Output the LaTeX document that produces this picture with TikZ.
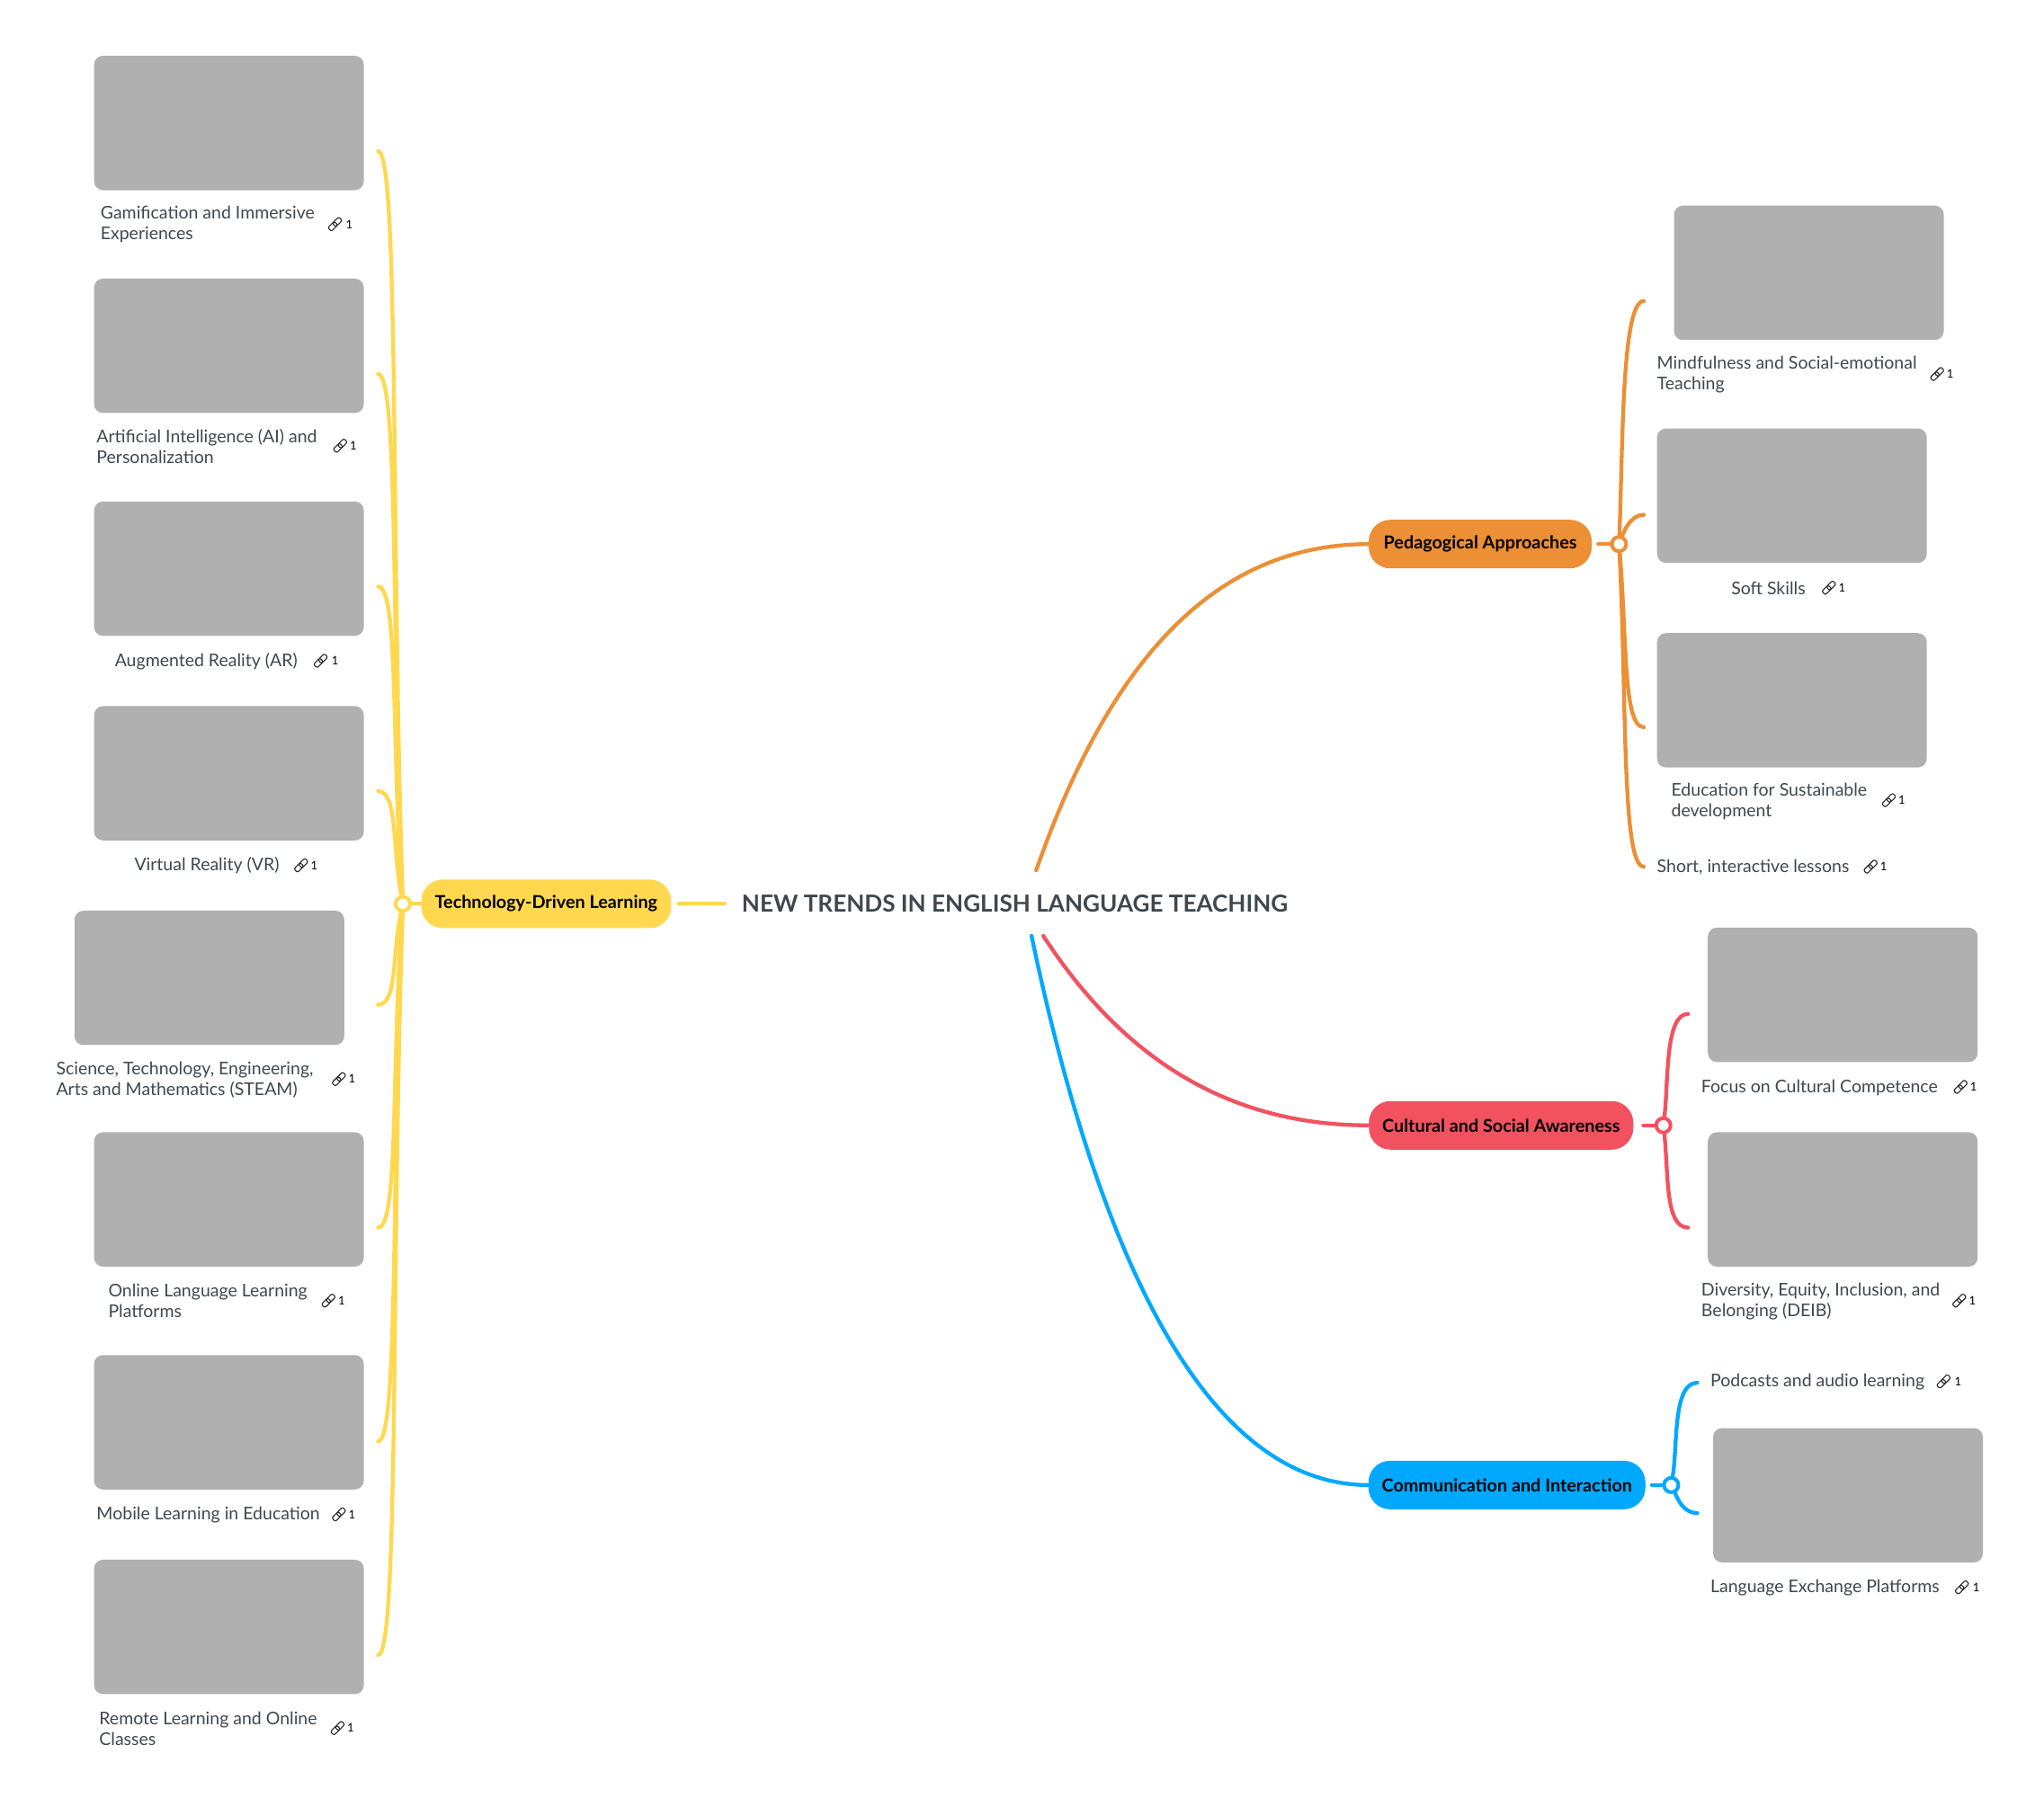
\documentclass[tikz,border=0pt]{standalone}
\usepackage{fontspec}
\setmainfont{Lato}
\usepackage{tikz}
\definecolor{techCol}{HTML}{FFD84F}
\definecolor{pedCol}{HTML}{EC8F35}
\definecolor{culCol}{HTML}{F25260}
\definecolor{comCol}{HTML}{00A9FF}
\definecolor{txtCol}{HTML}{3E474E}
\definecolor{boxCol}{HTML}{B0B0B0}

\begin{document}
\begin{tikzpicture}[x=1.4496pt,y=-1.4496pt,
    imgbox/.style={fill=boxCol,rounded corners=10pt,minimum width=300pt,minimum height=149.5pt,anchor=north west,inner sep=0pt,yshift=0.5pt},
    leaf/.style={text=txtCol,font=\fontsize{19.5}{23}\selectfont,align=left,anchor=west,inner sep=0pt,yshift=-0.5pt},
    linknum/.style={text=black,font=\fontsize{13}{13}\selectfont,inner sep=0pt},
    branch/.style={rounded corners=24pt,minimum height=54pt,inner sep=0pt,font=\fontsize{19.8}{20}\selectfont\bfseries,text=black},
    conn/.style={line width=4.3pt,line cap=round},
    hub/.style={circle,draw,fill=white,line width=4pt,minimum size=16pt,inner sep=0pt},
    chain/.pic={\draw[rotate=45,rounded corners=2pt,line width=1.1pt,black!85] (-8.5pt,-2.8pt) rectangle (1.5pt,2.8pt) (-1.5pt,-2.8pt) rectangle (8.5pt,2.8pt);}]

    \useasboundingbox (0,0) rectangle (1568,1386);

    % centre
    \node[text=txtCol,font=\fontsize{26.1}{28}\selectfont\bfseries,minimum height=72.5pt,inner xsep=18.8pt,inner ysep=0pt] (title) at (778.5,693) {NEW TRENDS IN ENGLISH LANGUAGE TEACHING};

    % branches
    \node[branch,fill=techCol,minimum width=278pt] (techNode) at (419,693.5) {Technology-Driven Learning};
    \node[branch,fill=pedCol,minimum width=248pt] (pedNode) at (1135.5,417.5) {Pedagogical Approaches};
    \node[branch,fill=culCol,minimum width=294pt] (culNode) at (1151.5,863.5) {Cultural and Social Awareness};
    \node[branch,fill=comCol,minimum width=308pt] (comNode) at (1156,1139.5) {Communication and Interaction};

    \node[hub,draw=techCol] (techHub) at (309,693.5) {};
    \node[hub,draw=pedCol] (pedHub) at (1242,417.5) {};
    \node[hub,draw=culCol] (culHub) at (1276,863.5) {};
    \node[hub,draw=comCol] (comHub) at (1282,1139.5) {};

    \draw[conn,techCol,shorten <=8pt] (techNode) -- (title);
    \draw[conn,pedCol] (title.57) .. controls (850,510) and (930,417.5) .. (pedNode.west);
    \draw[conn,culCol] (title.-49) .. controls (860,810) and (940,863.5) .. (culNode.west);
    \draw[conn,comCol] (title.-63) .. controls (840,950) and (920,1139.5) .. (comNode.west);

    \draw[conn,techCol] (techHub) -- (techNode);
    \draw[conn,pedCol,shorten <=7pt] (pedNode) -- (pedHub);
    \draw[conn,culCol,shorten <=11pt] (culNode) -- (culHub);
    \draw[conn,comCol,shorten <=7pt] (comNode) -- (comHub);

    % technology side
    \coordinate (techA) at (290,116);
    \coordinate (techB) at (290,287);
    \coordinate (techC) at (290,450);
    \coordinate (techD) at (290,607);
    \coordinate (techE) at (290,771);
    \coordinate (techF) at (290,942);
    \coordinate (techG) at (290,1106);
    \coordinate (techH) at (290,1270);
    \draw[conn,techCol] (techHub) .. controls (300,405) and (306,116) .. (techA);
    \draw[conn,techCol] (techHub) .. controls (300,490) and (306,287) .. (techB);
    \draw[conn,techCol] (techHub) .. controls (300,570) and (306,450) .. (techC);
    \draw[conn,techCol] (techHub) .. controls (301,650) and (305,607) .. (techD);
    \draw[conn,techCol] (techHub) .. controls (301,730) and (305,771) .. (techE);
    \draw[conn,techCol] (techHub) .. controls (300,820) and (306,942) .. (techF);
    \draw[conn,techCol] (techHub) .. controls (300,900) and (306,1106) .. (techG);
    \draw[conn,techCol] (techHub) .. controls (300,980) and (306,1270) .. (techH);

    \node[imgbox] (boxA) at (72,43) {};
    \node[leaf] (leafA) at (77,172) {Gamification and Immersive\\Experiences};
    \pic at (257,172) {chain};
    \node[linknum] (numA) at (268,172) {1};

    \node[imgbox] (boxB) at (72,214) {};
    \node[leaf] (leafB) at (74,342.5) {Artificial Intelligence (AI) and\\Personalization};
    \pic at (261,342) {chain};
    \node[linknum] (numB) at (271,342) {1};

    \node[imgbox] (boxC) at (72,385) {};
    \node[leaf] (leafC) at (88,507) {Augmented Reality (AR)};
    \pic at (246,507) {chain};
    \node[linknum] (numC) at (257,507) {1};

    \node[imgbox] (boxD) at (72,542) {};
    \node[leaf] (leafD) at (103,664) {Virtual Reality (VR)};
    \pic at (231,664) {chain};
    \node[linknum] (numD) at (241,664) {1};

    \node[imgbox] (boxE) at (57,699) {};
    \node[leaf] (leafE) at (43,828) {Science, Technology, Engineering,\\Arts and Mathematics (STEAM)};
    \pic at (260,828) {chain};
    \node[linknum] (numE) at (270,828) {1};

    \node[imgbox] (boxF) at (72,869) {};
    \node[leaf] (leafF) at (83,998) {Online Language Learning\\Platforms};
    \pic at (252,998) {chain};
    \node[linknum] (numF) at (262,998) {1};

    \node[imgbox] (boxG) at (72,1040) {};
    \node[leaf] (leafG) at (74,1162) {Mobile Learning in Education};
    \pic at (260,1162) {chain};
    \node[linknum] (numG) at (270,1162) {1};

    \node[imgbox] (boxH) at (72,1197) {};
    \node[leaf] (leafH) at (76,1326) {Remote Learning and Online\\Classes};
    \pic at (259,1326) {chain};
    \node[linknum] (numH) at (269,1326) {1};

    % pedagogical side
    \coordinate (pedA) at (1261,231);
    \coordinate (pedB) at (1261,395);
    \coordinate (pedC) at (1261,558);
    \coordinate (pedD) at (1261,665);
    \draw[conn,pedCol] (pedHub) .. controls (1245,340) and (1244,231) .. (pedA);
    \draw[conn,pedCol] (pedHub) .. controls (1245,410) and (1250,395) .. (pedB);
    \draw[conn,pedCol] (pedHub) .. controls (1248,490) and (1245,558) .. (pedC);
    \draw[conn,pedCol] (pedHub) .. controls (1248,540) and (1244,665) .. (pedD);

    \node[imgbox] (boxI) at (1284,158) {};
    \node[leaf] (leafI) at (1271,287) {Mindfulness and Social-emotional\\Teaching};
    \pic at (1486,287) {chain};
    \node[linknum] (numI) at (1496,287) {1};

    \node[imgbox] (boxJ) at (1271,329) {};
    \node[leaf] (leafJ) at (1328,451) {Soft Skills};
    \pic at (1403,451) {chain};
    \node[linknum] (numJ) at (1413,451) {1};

    \node[imgbox] (boxK) at (1271,486) {};
    \node[leaf] (leafK) at (1282,614.5) {Education for Sustainable\\development};
    \pic at (1449,614) {chain};
    \node[linknum] (numK) at (1459,614) {1};

    \node[leaf] (leafL) at (1271,665) {Short, interactive lessons};
    \pic at (1435,665) {chain};
    \node[linknum] (numL) at (1445,665) {1};

    % cultural side
    \coordinate (culA) at (1295,778);
    \coordinate (culB) at (1295,942);
    \draw[conn,culCol] (culHub) .. controls (1280,830) and (1277,778) .. (culA);
    \draw[conn,culCol] (culHub) .. controls (1280,900) and (1277,942) .. (culB);

    \node[imgbox] (boxM) at (1310,712) {};
    \node[leaf] (leafM) at (1305,834) {Focus on Cultural Competence};
    \pic at (1504,834) {chain};
    \node[linknum] (numM) at (1514,834) {1};

    \node[imgbox] (boxN) at (1310,869) {};
    \node[leaf] (leafN) at (1305,998) {Diversity, Equity, Inclusion, and\\Belonging (DEIB)};
    \pic at (1503,998) {chain};
    \node[linknum] (numN) at (1513,998) {1};

    % communication side
    \coordinate (comA) at (1302,1061);
    \coordinate (comB) at (1302,1161);
    \draw[conn,comCol] (comHub) .. controls (1287,1110) and (1283,1061) .. (comA);
    \draw[conn,comCol] (comHub) .. controls (1287,1150) and (1291,1161) .. (comB);

    \node[leaf] (leafO) at (1312,1060) {Podcasts and audio learning};
    \pic at (1491,1060) {chain};
    \node[linknum] (numO) at (1502,1060) {1};

    \node[imgbox] (boxP) at (1314,1096) {};
    \node[leaf] (leafP) at (1312,1218) {Language Exchange Platforms};
    \pic at (1505,1218) {chain};
    \node[linknum] (numP) at (1516,1218) {1};

\end{tikzpicture}
\end{document}
